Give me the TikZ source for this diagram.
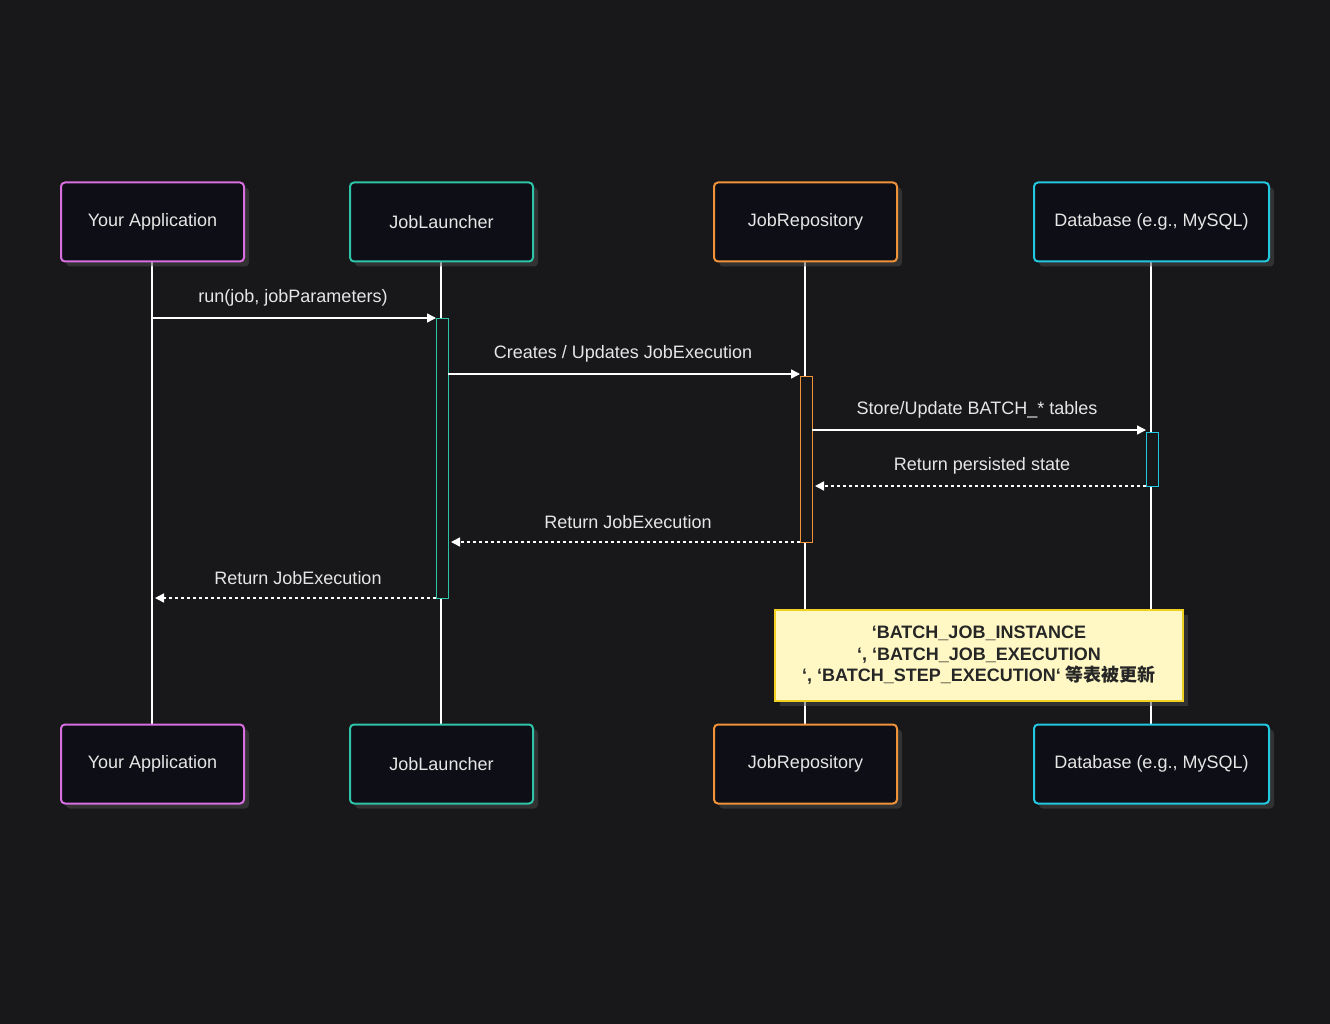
\documentclass[tikz,border=0pt]{standalone}
\usepackage{fontspec}
\setmainfont{Liberation Sans}
\newfontfamily\cjk{Noto Sans CJK SC}
\usetikzlibrary{arrows.meta}
\definecolor{bg}{HTML}{18181A}
\definecolor{boxfill}{HTML}{0E0E16}
\definecolor{cA}{HTML}{D86EE0}
\definecolor{cB}{HTML}{2EC4A8}
\definecolor{cC}{HTML}{F0923A}
\definecolor{cD}{HTML}{22C8E0}
\definecolor{txt}{HTML}{E6E6E6}
\definecolor{notefill}{HTML}{FFF8C4}
\definecolor{noteborder}{HTML}{F0D020}
\begin{document}
\begin{tikzpicture}[x=1pt,y=-1pt,
  actor/.style={draw=#1,line width=2pt,fill=boxfill,rounded corners=4pt,minimum height=79pt,text=txt,font=\fontsize{18}{22}\selectfont},
  life/.style={draw=white,line width=1.5pt},
  act/.style={draw=#1,fill=bg,line width=1pt},
  msg/.style={draw=white,line width=1.5pt,-{Triangle[length=9pt,width=9pt]}},
  ret/.style={msg,dash pattern=on 3pt off 3pt},
  lbl/.style={text=txt,font=\fontsize{18}{22}\selectfont}]
\fill[bg] (0,0) rectangle (1330,1024);
\useasboundingbox (0,0) rectangle (1330,1024);
% lifelines
\foreach \x in {152,441,805,1151}{\draw[life] (\x,262) -- (\x,725);}
% actors with shadow
\foreach \n/\x/\w/\c/\t/\y in {a/152.5/183/cA/Your Application/222, b/441.5/183/cB/JobLauncher/222, c/805.5/183/cC/JobRepository/222, d/1151.5/235/cD/{Database (e.g., MySQL)}/222,
  a2/152.5/183/cA/Your Application/764, b2/441.5/183/cB/JobLauncher/764, c2/805.5/183/cC/JobRepository/764, d2/1151.5/235/cD/{Database (e.g., MySQL)}/764}{
  \fill[black!70,opacity=0.5,rounded corners=4pt] (\x-\w/2+5,\y-39.5+5) rectangle (\x+\w/2+5,\y+39.5+5);
  \node[actor=\c,minimum width=\w pt] (\n) at (\x,\y) {\t};
}
% activations
\draw[act=cB] (436,318) rectangle (448,598);
\draw[act=cC] (800,376) rectangle (812,542);
\draw[act=cD] (1146,432) rectangle (1158,486);
\coordinate (m1s) at (152,318); \coordinate (m1e) at (436,318);
\coordinate (m2s) at (448,374); \coordinate (m2e) at (800,374);
\coordinate (m3s) at (812,430); \coordinate (m3e) at (1146,430);
\coordinate (m4s) at (1146,486); \coordinate (m4e) at (815,486);
\coordinate (m5s) at (800,542); \coordinate (m5e) at (451,542);
\coordinate (m6s) at (436,598); \coordinate (m6e) at (155,598);
\draw[msg] (m1s) -- (m1e);
\draw[msg] (m2s) -- (m2e);
\draw[msg] (m3s) -- (m3e);
\draw[ret] (m4s) -- (m4e);
\draw[ret] (m5s) -- (m5e);
\draw[ret] (m6s) -- (m6e);
\node[lbl] (l1) at (293,298) {run(job, jobParameters)};
\node[lbl] (l2) at (623,354) {Creates / Updates JobExecution};
\node[lbl] (l3) at (977,410) {Store/Update BATCH\_* tables};
\node[lbl] (l4) at (982,466) {Return persisted state};
\node[lbl] (l5) at (628,522) {Return JobExecution};
\node[lbl] (l6) at (298,578) {Return JobExecution};
% note
\fill[black!70,opacity=0.5] (780,615) rectangle (1188,706);
\node[draw=noteborder,fill=notefill,line width=1.5pt,minimum width=408pt,minimum height=91pt,align=center,
  font=\fontsize{18}{21.5}\selectfont\bfseries,text=black!85] (note) at (979,655.5)
  {`BATCH\_JOB\_INSTANCE\\`, `BATCH\_JOB\_EXECUTION\\`, `BATCH\_STEP\_EXECUTION` {\cjk 等表被更新}};
\end{tikzpicture}
\end{document}
